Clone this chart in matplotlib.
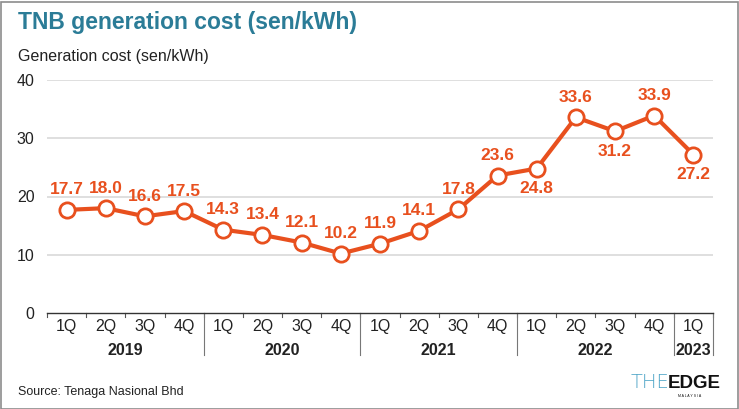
import numpy as np
import matplotlib.pyplot as plt
from matplotlib.patches import Rectangle

quarters = ["1Q", "2Q", "3Q", "4Q"] * 4 + ["1Q"]
years = ["2019", "2020", "2021", "2022", "2023"]
year_len = [4, 4, 4, 4, 1]
cost = [17.7, 18.0, 16.6, 17.5, 14.3, 13.4, 12.1, 10.2,
        11.9, 14.1, 17.8, 23.6, 24.8, 33.6, 31.2, 33.9, 27.2]
below = [12, 14, 16]   # labels drawn under the point

orange = "#E8501E"
teal = "#2B7C97"

plt.rcParams['font.family'] = ['Liberation Sans', 'DejaVu Sans']

W, H = 739, 409
fig = plt.figure(figsize=(W / 100, H / 100), dpi=100)
fig.patches.append(Rectangle((0.5 / W, 0.5 / H), 1 - 2 / W, 1 - 2 / H, transform=fig.transFigure,
                             fill=False, ec="#8c8c8c", lw=1.2))

x0, x1, ytop, ybot = 47, 713, 80, 313
ax = fig.add_axes([x0 / W, 1 - ybot / H, (x1 - x0) / W, (ybot - ytop) / H])
x = np.arange(len(cost))
ax.set_xlim(-0.5, len(cost) - 0.5)
ax.set_ylim(0, 40)

for v in [10, 20, 30, 40]:
    ax.axhline(v, color="#d9d9d9", lw=1.2, zorder=0)
for s in ["top", "right", "left"]:
    ax.spines[s].set_visible(False)
ax.spines["bottom"].set_color("#333333")
ax.spines["bottom"].set_linewidth(1.0)

ax.set_yticks([0, 10, 20, 30, 40])
ax.tick_params(axis="y", length=0, pad=9, labelsize=11.5, colors="#222222")
ax.set_xticks([])

ax.plot(x, cost, color=orange, lw=3, marker="o", ms=11, mfc="white", mec=orange, mew=2, zorder=3, clip_on=False)

for i, v in enumerate(cost):
    dy = -9 if i in below else 9
    va = "top" if i in below else "bottom"
    ax.annotate(f"{v:.1f}", (i, v), xytext=(0, dy), textcoords="offset points", ha="center", va=va,
                fontsize=12.5, fontweight="bold", color=orange,
                family=['Liberation Sans Narrow', 'Liberation Sans', 'DejaVu Sans'])

# quarter labels and small ticks
trans = ax.get_xaxis_transform()
for i, q in enumerate(quarters):
    ax.text(i, -0.06, q, transform=trans, ha="center", va="center", fontsize=11.5, color="#222222")
for b in range(len(cost) + 1):
    ax.plot([b - 0.5, b - 0.5], [0, -0.018], transform=trans, color="#555555", lw=0.8, clip_on=False)

# year labels and separators
start = 0
for yr, n in zip(years, year_len):
    ax.text(start + n / 2 - 0.5, -0.16, yr, transform=trans, ha="center", va="center",
            fontsize=11.5, fontweight="bold", color="#222222")
    start += n
    ax.plot([start - 0.5, start - 0.5], [0, -0.18], transform=trans, color="#777777", lw=0.8, clip_on=False)

fig.text(18 / W, 1 - 23 / H, "TNB generation cost (sen/kWh)", fontsize=16.5, fontweight="bold",
         color=teal, va="center", ha="left")
fig.text(18 / W, 1 - 56 / H, "Generation cost (sen/kWh)", fontsize=11.5, color="#222222", va="center", ha="left")
fig.text(18 / W, 1 - 392 / H, "Source: Tenaga Nasional Bhd", fontsize=9, color="#222222", va="center", ha="left")

# logo
fig.text(669 / W, 1 - 383 / H, "THE", fontsize=14, color="#4aa3c6", ha="right", va="center",
         fontweight="light", family=['Liberation Sans Narrow', 'DejaVu Sans'])
fig.text(668 / W, 1 - 383 / H, "EDGE", fontsize=13.5, color="#111111", ha="left", va="center",
         fontweight="heavy")
fig.text(690 / W, 1 - 396 / H, "M A L A Y S I A", fontsize=2.5, color="#111111", ha="center", va="center")

fig.savefig("out.png", dpi=100)
